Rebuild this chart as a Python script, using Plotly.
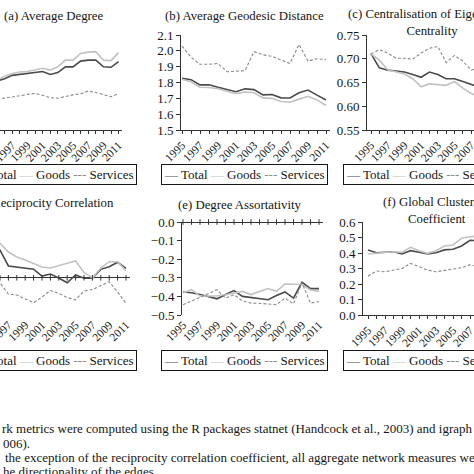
import plotly.graph_objects as go


#%% data

years = list(range(1995, 2012))
year_labels = [str(y) if y % 2 == 1 else '' for y in years]

# (a) Average Degree (y axis is outside the crop)
deg_total = [20.3, 20.8, 21.5, 21.7, 21.8, 22.0, 22.3, 21.7, 22.1, 23.3, 23.3, 24.5, 24.7, 24.7, 23.3, 23.2, 24.4]
deg_goods = [20.5, 21.3, 21.9, 22.2, 22.3, 22.6, 23.0, 22.6, 23.3, 24.7, 24.7, 26.1, 26.4, 26.5, 24.7, 24.6, 26.3]
deg_services = [16.5, 16.7, 16.9, 17.2, 17.5, 17.7, 17.3, 16.8, 16.7, 17.1, 17.4, 17.6, 18.2, 17.9, 17.4, 17.0, 17.7]

# (b) Average Geodesic Distance
geo_total = [1.826, 1.818, 1.785, 1.786, 1.770, 1.757, 1.742, 1.760, 1.755, 1.722, 1.724, 1.703, 1.702, 1.735, 1.752, 1.720, 1.690]
geo_goods = [1.820, 1.805, 1.770, 1.768, 1.760, 1.745, 1.730, 1.740, 1.735, 1.703, 1.700, 1.680, 1.675, 1.695, 1.713, 1.690, 1.655]
geo_services = [2.030, 1.960, 1.915, 1.915, 1.920, 1.868, 1.872, 1.875, 1.995, 1.975, 1.965, 1.940, 1.920, 2.040, 1.935, 1.950, 1.945]

# (c) Centralisation of Eigenvector Centrality
cent_total = [0.711, 0.681, 0.676, 0.674, 0.672, 0.667, 0.661, 0.672, 0.667, 0.658, 0.658, 0.652, 0.645, 0.640, 0.640, 0.635, 0.630]
cent_goods = [0.710, 0.697, 0.677, 0.672, 0.668, 0.658, 0.641, 0.647, 0.646, 0.644, 0.652, 0.638, 0.627, 0.620, 0.625, 0.620, 0.615]
cent_services = [0.710, 0.719, 0.712, 0.701, 0.701, 0.699, 0.712, 0.722, 0.726, 0.692, 0.707, 0.695, 0.676, 0.680, 0.675, 0.670, 0.665]

# (d) Reciprocity Correlation
rec_total = [0.342, 0.299, 0.127, 0.116, 0.102, 0.092, 0.019, 0.041, -0.002, -0.053, 0.030, -0.005, -0.005, 0.091, 0.119, 0.167, 0.102]
rec_goods = [0.428, 0.371, 0.277, 0.224, 0.191, 0.155, 0.116, 0.105, 0.127, 0.156, 0.181, 0.057, -0.002, 0.105, 0.173, 0.173, 0.076]
rec_services = [0.062, -0.059, -0.174, -0.185, -0.228, -0.268, -0.206, -0.137, -0.169, -0.212, -0.237, -0.142, -0.126, -0.088, -0.042, -0.153, -0.274]

# (e) Degree Assortativity
ass_total = [-0.376, -0.380, -0.390, -0.400, -0.413, -0.390, -0.369, -0.400, -0.405, -0.410, -0.418, -0.395, -0.376, -0.409, -0.324, -0.358, -0.358]
ass_goods = [-0.382, -0.364, -0.398, -0.400, -0.398, -0.391, -0.380, -0.373, -0.390, -0.375, -0.358, -0.373, -0.333, -0.335, -0.336, -0.365, -0.373]
ass_services = [-0.445, -0.425, -0.405, -0.385, -0.364, -0.409, -0.391, -0.425, -0.436, -0.437, -0.440, -0.445, -0.409, -0.440, -0.327, -0.436, -0.427]

# (f) Global Clustering Coefficient
clu_total = [0.419, 0.402, 0.405, 0.408, 0.394, 0.415, 0.405, 0.394, 0.402, 0.420, 0.424, 0.445, 0.482, 0.480, 0.470, 0.470, 0.470]
clu_goods = [0.394, 0.400, 0.405, 0.408, 0.404, 0.437, 0.415, 0.398, 0.415, 0.445, 0.452, 0.495, 0.505, 0.510, 0.500, 0.490, 0.490]
clu_services = [0.252, 0.284, 0.279, 0.290, 0.300, 0.333, 0.310, 0.290, 0.279, 0.288, 0.295, 0.305, 0.323, 0.310, 0.300, 0.300, 0.300]

series_names = ['Total', 'Goods', 'Services']

footnote_lines = [
    'rk metrics were computed using the R packages statnet (Handcock et al., 2003) and igraph',
    '006).',
    'the exception of the reciprocity correlation coefficient, all aggregate network measures we',
    'he directionality of the edges.',
]


#%% styling / layout helpers

W = H = 474
FONT = 'Liberation Serif'
INK = '#161616'
AXIS = '#333333'
C_TOTAL = '#4a4a4a'
C_GOODS = '#c2c2c2'
C_SERV = '#8a8a8a'


def fx(px):
    return px / W


def fy(py):
    return 1 - py / H


ROW1 = (35, 130)
ROW2 = (222, 315)

# panel specs: title, data, x pixel domain, x range, y range, y ticks, y format,
# row, title position, legend anchor, special axis handling
panels = [
    dict(title='(a) Average Degree', data=(deg_total, deg_goods, deg_services),
         xpx=(0, 122), xr=(1995.395, 2011.447), yr=(10, 30), yt=None, fmt=None,
         row=ROW1, tpos=(54, 16), leg=('right', 137, 174.5), hidey=True, zero=False),
    dict(title='(b) Average Geodesic Distance', data=(geo_total, geo_goods, geo_services),
         xpx=(181, 330), xr=(1994.889, 2011.444), yr=(1.5, 2.1),
         yt=[1.5, 1.6, 1.7, 1.8, 1.9, 2.0, 2.1], fmt='.1f',
         row=ROW1, tpos=(244, 16), leg=('center', 244, 174.5), hidey=False, zero=False),
    dict(title='(c) Centralisation of Eigenvector<br>Centrality', data=(cent_total, cent_goods, cent_services),
         xpx=(367, 474), xr=(1994.521, 2007.335), yr=(0.55, 0.75),
         yt=[0.55, 0.60, 0.65, 0.70, 0.75], fmt='.2f',
         row=ROW1, tpos=(432, 22.5), leg=('left', 343, 174.5), hidey=False, zero=False),
    dict(title='(d) Reciprocity Correlation', data=(rec_total, rec_goods, rec_services),
         xpx=(0, 130), xr=(1996.0, 2011.476), yr=(-0.4, 0.6), yt=None, fmt=None,
         row=ROW2, tpos=(44, 203.5), leg=('right', 137, 360), hidey=True, zero=True),
    dict(title='(e) Degree Assortativity', data=(ass_total, ass_goods, ass_services),
         xpx=(182, 323), xr=(1994.882, 2011.47), yr=(-0.5, 0.0),
         yt=[-0.5, -0.4, -0.3, -0.2, -0.1, 0.0], fmt='.1f',
         row=ROW2, tpos=(240, 205), leg=('center', 244, 360), hidey=False, zero=True),
    dict(title='(f) Global Clustering<br>Coefficient', data=(clu_total, clu_goods, clu_services),
         xpx=(363, 474), xr=(1994.412, 2007.47), yr=(0.0, 0.6),
         yt=[0.0, 0.1, 0.2, 0.3, 0.4, 0.5, 0.6], fmt='.1f',
         row=ROW2, tpos=(437, 210.5), leg=('left', 343, 360), hidey=False, zero=False),
]

legend_text = ("<span style='color:%s'>—</span> %s <span style='color:%s'>—</span> %s "
               "<span style='color:%s'>---</span> %s"
               % (C_TOTAL, series_names[0], C_GOODS, series_names[1], C_SERV, series_names[2]))


#%% build figure

fig = go.Figure()
layout = {}
annotations = []

line_styles = [
    dict(color=C_TOTAL, width=1.6),
    dict(color=C_GOODS, width=1.6),
    dict(color=C_SERV, width=1.1, dash='3px,2px'),
]

for i, p in enumerate(panels, start=1):
    xa = 'x' if i == 1 else 'x%d' % i
    ya = 'y' if i == 1 else 'y%d' % i

    for name, vals, ls in zip(series_names, p['data'], line_styles):
        fig.add_trace(go.Scatter(x=years, y=vals, mode='lines', name=name, line=ls,
                                 xaxis=xa, yaxis=ya, showlegend=False))

    if p['zero']:
        # tick marks sitting on the zero axis line
        fig.add_trace(go.Scatter(x=years, y=[0] * len(years), mode='markers',
                                 marker=dict(symbol='line-ns', size=4,
                                             line=dict(width=1, color=AXIS)),
                                 cliponaxis=False, hoverinfo='skip', showlegend=False,
                                 xaxis=xa, yaxis=ya))

    top, bottom = p['row']
    xkey = 'xaxis' if i == 1 else 'xaxis%d' % i
    ykey = 'yaxis' if i == 1 else 'yaxis%d' % i

    layout[xkey] = dict(
        domain=[fx(p['xpx'][0]), fx(p['xpx'][1])], range=list(p['xr']), anchor=ya,
        tickmode='array', tickvals=years, ticktext=year_labels, tickangle=-45,
        tickfont=dict(family=FONT, size=11.5, color=INK), ticklabeloverflow='allow',
        showline=not p['zero'], linecolor=AXIS, linewidth=1,
        ticks='' if p['zero'] else 'outside', ticklen=3, tickcolor=AXIS,
        showgrid=False, zeroline=False,
    )
    ydict = dict(
        domain=[fy(bottom), fy(top)], range=list(p['yr']), anchor=xa,
        showgrid=False, zeroline=p['zero'], zerolinecolor=AXIS, zerolinewidth=1,
    )
    if p['hidey']:
        ydict.update(showline=False, showticklabels=False, ticks='')
    else:
        ydict.update(tickmode='array', tickvals=p['yt'], tickformat=p['fmt'],
                     showline=True, linecolor=AXIS, linewidth=1,
                     ticks='outside', ticklen=4, tickcolor=AXIS,
                     tickfont=dict(family=FONT, size=13, color=INK))
    layout[ykey] = ydict

    # panel title
    annotations.append(dict(text=p['title'], xref='paper', yref='paper',
                            x=fx(p['tpos'][0]), y=fy(p['tpos'][1]),
                            xanchor='center', yanchor='middle', showarrow=False,
                            font=dict(family=FONT, size=12.8, color=INK)))

    # boxed legend under each panel
    anchor, lx, ly = p['leg']
    annotations.append(dict(text=legend_text, xref='paper', yref='paper',
                            x=fx(lx), y=fy(ly), xanchor=anchor, yanchor='middle',
                            showarrow=False, bordercolor=INK, borderwidth=1, borderpad=2,
                            bgcolor='white', font=dict(family=FONT, size=13, color=INK)))

# footnote text under the figure
foot_pos = [(0, 428), (1, 443), (3, 457), (1, 471)]
for txt, (px, py) in zip(footnote_lines, foot_pos):
    annotations.append(dict(text=txt, xref='paper', yref='paper', x=fx(px), y=fy(py),
                            xanchor='left', yanchor='middle', showarrow=False,
                            font=dict(family=FONT, size=13, color=INK)))

fig.update_layout(
    width=W, height=H,
    margin=dict(l=0, r=0, t=0, b=0, autoexpand=False),
    paper_bgcolor='white', plot_bgcolor='white',
    showlegend=False,
    annotations=annotations,
    **layout,
)

# drop the browser's default body margin so the figure sits at the window corner
fig.write_html('out.html', config={'displayModeBar': False},
               post_script="document.body.style.margin = '0';")
print('done')
